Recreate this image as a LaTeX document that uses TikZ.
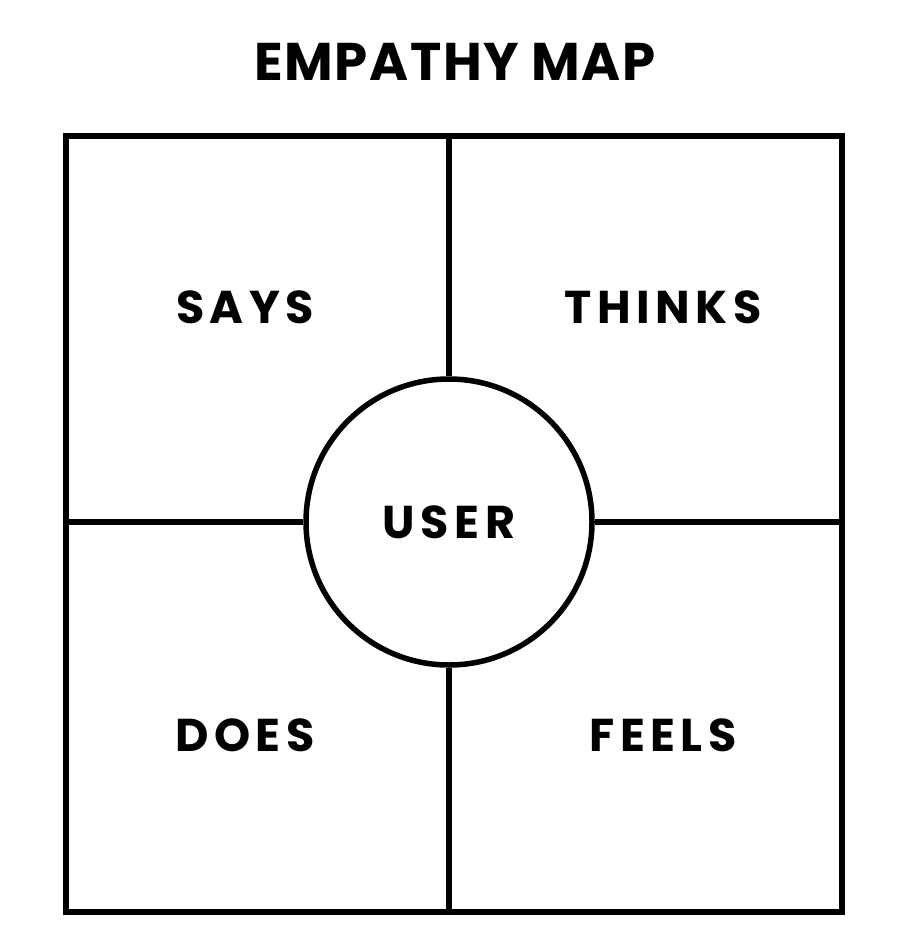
\documentclass[tikz,border=0pt]{standalone}
\usepackage{fontspec}
\setmainfont{Poppins}
\newfontfamily\labfont[LetterSpace=12]{Poppins Bold}
\begin{document}
\begin{tikzpicture}[x=1pt,y=-1pt,
  frame/.style={line width=5.5pt,black},
  lab/.style={font=\labfont\fontsize{46}{50}\selectfont,inner sep=0pt}]
\useasboundingbox (0,0) rectangle (922,936);
\fill[white] (0,0) rectangle (922,936);
\node[font=\labfont\fontsize{53}{58}\selectfont,inner sep=0pt] (title) at (455,62) {\addfontfeature{LetterSpace=3}EMPATHY MAP};
\draw[frame] (66,136) rectangle (842,912);
\node[circle,draw,line width=5.5pt,minimum size=286pt,inner sep=0pt] (user) at (449,522) {};
\coordinate (t) at (449,136); \coordinate (b) at (449,912);
\coordinate (l) at (66,522); \coordinate (r) at (842,522);
\draw[frame] (t) -- (user.north);
\draw[frame] (user.south) -- (b);
\draw[frame] (l) -- (user.west);
\draw[frame] (user.east) -- (r);
\node[lab] at (user) {USER};
\node[lab] (says) at (245,307) {SAYS};
\node[lab] (thinks) at (663,307) {THINKS};
\node[lab] (does) at (245,735) {DOES};
\node[lab] (feels) at (663,735) {FEELS};
\end{tikzpicture}
\end{document}
